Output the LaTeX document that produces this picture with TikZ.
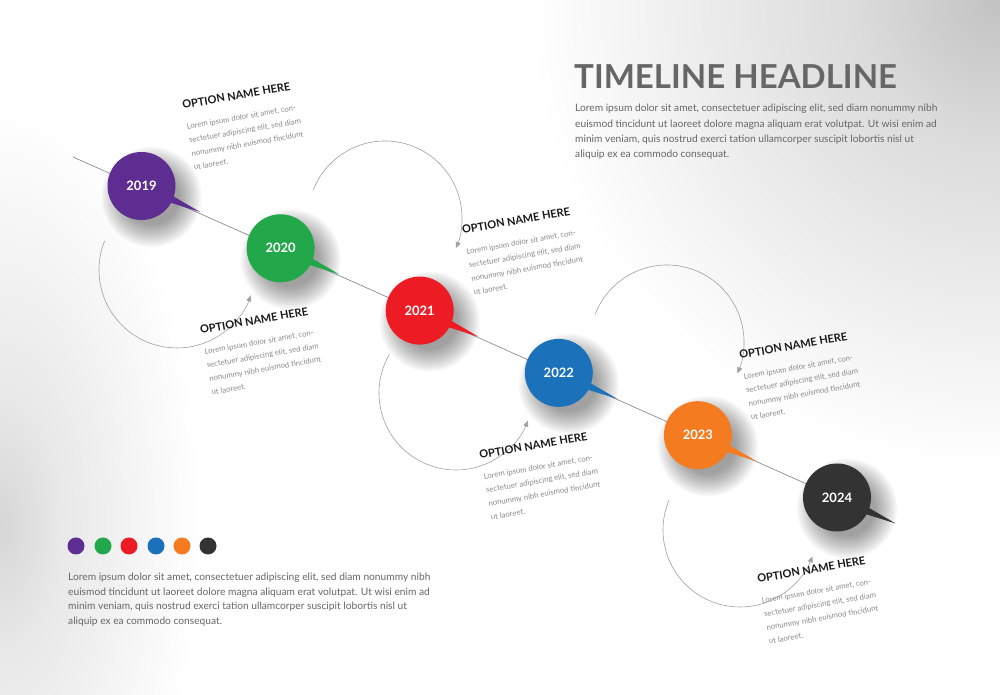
\documentclass[tikz,border=0pt]{standalone}
\usepackage{fontspec}
\setmainfont{Lato}
\usetikzlibrary{arrows.meta}
\definecolor{cpurple}{HTML}{5E2D91}
\definecolor{cgreen}{HTML}{22A84A}
\definecolor{cred}{HTML}{ED1C24}
\definecolor{cblue}{HTML}{1B72BA}
\definecolor{corange}{HTML}{F47B20}
\definecolor{cdark}{HTML}{333333}
\definecolor{hgray}{HTML}{666666}
\definecolor{bgray}{HTML}{8A8A8A}
\definecolor{agray}{HTML}{A0A0A0}
\pgfdeclareradialshading{trshade}{\pgfpoint{0bp}{0bp}}{color(0bp)=(black!24); color(7.5bp)=(black!14); color(25bp)=(white); color(50bp)=(white)}
\pgfdeclareradialshading{lshade}{\pgfpoint{0bp}{0bp}}{color(0bp)=(black!16); color(7.5bp)=(black!9); color(25bp)=(white); color(50bp)=(white)}
\tikzset{
  yearc/.style={circle, minimum size=68pt, inner sep=0pt, text=white, font=\bfseries\fontsize{13}{13}\selectfont},
  tline/.style={draw=black!50, line width=0.6pt},
  arcline/.style={draw=agray, line width=0.6pt, -{Triangle[length=6pt,width=5pt]}},
  opthead/.style={inner sep=0pt, text=black!90, font=\bfseries\fontsize{11}{11}\selectfont},
  optbody/.style={inner sep=0pt, align=left, text=bgray, font=\fontsize{7.7}{13.7}\selectfont},
  para/.style={inner sep=0pt, align=left, text=hgray, font=\fontsize{10.2}{15.3}\selectfont},
  dotc/.style={circle, minimum size=17pt, inner sep=0pt},
}
\begin{document}
\begin{tikzpicture}[x=1pt,y=1pt]
\useasboundingbox (0,0) rectangle (1000,695);
\fill[white] (0,0) rectangle (1000,695);
\begin{scope}
  \clip (0,0) rectangle (1000,695);
  \shade[shading=trshade] (1000,695) circle (470);
  \shade[shading=lshade] (0,170) ellipse (200 and 420);
\end{scope}

% centres
\coordinate (p2019) at (141.5,509);
\coordinate (p2020) at (280.6,446.7);
\coordinate (p2021) at (419.7,384.4);
\coordinate (p2022) at (558.8,322.1);
\coordinate (p2023) at (697.9,259.8);
\coordinate (p2024) at (837,197.5);
\coordinate (lstart) at (73,538);

% loop arcs
\draw[arcline] (177,425) ++(158:78) arc[start angle=158, end angle=341, radius=78];
\draw[arcline] (385,477) ++(159:77) arc[start angle=159, end angle=-23, radius=77];
\draw[arcline] (456,302) ++(150:77) arc[start angle=150, end angle=339, radius=77];
\draw[arcline] (667,353) ++(159:77) arc[start angle=159, end angle=-24, radius=77];
\draw[arcline] (740,165) ++(157:77) arc[start angle=157, end angle=340, radius=77];

% main line
\draw[tline] (lstart) -- (p2024);

% shadows
\foreach \p in {p2019,p2020,p2021,p2022,p2023,p2024}{
  \foreach \i in {0,...,11}{
    \fill[black, opacity=0.035, shift={(\p)}] (10,-11) circle ({28+2*\i});
  }
}

% tails
\foreach \p/\c in {p2019/cpurple,p2020/cgreen,p2021/cred,p2022/cblue,p2023/corange,p2024/cdark}{
  \fill[\c, shift={(\p)}] (-17:31) -- (-23.9:64) -- (-31:31) -- cycle;
}

% year circles
\node[yearc, fill=cpurple] (y2019) at (p2019) {2019};
\node[yearc, fill=cgreen]  (y2020) at (p2020) {2020};
\node[yearc, fill=cred]    (y2021) at (p2021) {2021};
\node[yearc, fill=cblue]   (y2022) at (p2022) {2022};
\node[yearc, fill=corange] (y2023) at (p2023) {2023};
\node[yearc, fill=cdark]   (y2024) at (p2024) {2024};

% option blocks
\foreach \k/\x/\y in {1/183/586, 2/200.7/361, 3/462.7/461, 4/480/236, 5/740/336, 6/758/112}{
  \begin{scope}[shift={(\x,\y)}, rotate=10, transform shape]
    \node[opthead, anchor=base west] (h\k) at (0,0) {OPTION NAME HERE};
    \node[optbody, anchor=north west] (b\k) at (0.5,-15) {Lorem ipsum dolor sit amet, con-\\sectetuer adipiscing elit, sed diam\\nonummy nibh euismod tincidunt\\ut laoreet.};
  \end{scope}
}

% headline
\node[anchor=base west, inner sep=0pt, text=hgray, font=\bfseries\fontsize{33}{33}\selectfont] (title) at (574,606) {TIMELINE HEADLINE};
\node[para, anchor=north west] (ptop) at (575,591) {Lorem ipsum dolor sit amet, consectetuer adipiscing elit, sed diam nonummy nibh\\euismod tincidunt ut laoreet dolore magna aliquam erat volutpat. Ut wisi enim ad\\minim veniam, quis nostrud exerci tation ullamcorper suscipit lobortis nisl ut\\aliquip ex ea commodo consequat.};

% colour dots
\node[dotc, fill=cpurple] (d1) at (76,149) {};
\node[dotc, fill=cgreen]  (d2) at (103,149) {};
\node[dotc, fill=cred]    (d3) at (129,149) {};
\node[dotc, fill=cblue]   (d4) at (156,149) {};
\node[dotc, fill=corange] (d5) at (182,149) {};
\node[dotc, fill=cdark]   (d6) at (208,149) {};

\node[para, anchor=north west, font=\fontsize{10.2}{14.5}\selectfont] (pbot) at (68,122) {Lorem ipsum dolor sit amet, consectetuer adipiscing elit, sed diam nonummy nibh\\euismod tincidunt ut laoreet dolore magna aliquam erat volutpat. Ut wisi enim ad\\minim veniam, quis nostrud exerci tation ullamcorper suscipit lobortis nisl ut\\aliquip ex ea commodo consequat.};
\end{tikzpicture}
\end{document}
